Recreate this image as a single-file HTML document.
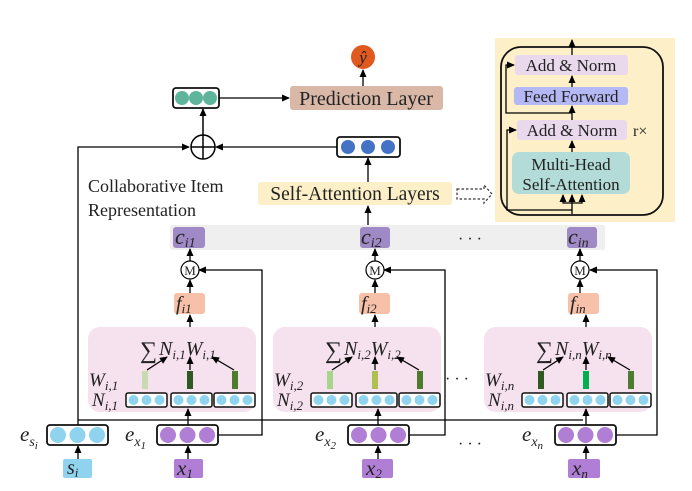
<!DOCTYPE html>
<html><head><meta charset="utf-8"><style>
html,body{margin:0;padding:0;background:#fff;}
svg{display:block;}
text{font-family:"Liberation Serif",serif;fill:#222;}
.it{font-style:italic;}
</style></head><body>
<svg width="692" height="491" viewBox="0 0 692 491" xmlns="http://www.w3.org/2000/svg">
<defs>
<marker id="a" markerWidth="8" markerHeight="8" refX="7" refY="4" orient="auto" markerUnits="userSpaceOnUse"><path d="M0,0.5 L8,4 L0,7.5 z" fill="#000"/></marker>
<g id="blue3"><rect x="0" y="0" width="41" height="14" rx="2" fill="#fff" stroke="#111" stroke-width="1.5"/><circle cx="7.5" cy="7" r="5" fill="#8fd3ee"/><circle cx="20.5" cy="7" r="5" fill="#8fd3ee"/><circle cx="33.5" cy="7" r="5" fill="#8fd3ee"/></g>
<g id="purp"><rect x="0" y="0" width="61" height="20" rx="3" fill="#fff" stroke="#111" stroke-width="1.8"/><circle cx="11" cy="10" r="8" fill="#b07ed4"/><circle cx="30.5" cy="10" r="8" fill="#b07ed4"/><circle cx="50" cy="10" r="8" fill="#b07ed4"/></g>
</defs>

<!-- right transformer panel -->
<rect x="495" y="38" width="180" height="184" fill="#fdf0c8"/>
<rect x="501" y="47" width="162" height="168" rx="20" fill="none" stroke="#111" stroke-width="1.8"/>
<rect x="515" y="55" width="113" height="20" rx="3" fill="#ead9ec"/>
<text x="571" y="71" font-size="17" text-anchor="middle">Add &amp; Norm</text>
<rect x="514" y="87" width="114" height="18" rx="3" fill="#b4b8f4"/>
<text x="571" y="102" font-size="17" text-anchor="middle">Feed Forward</text>
<rect x="517" y="120" width="110" height="20" rx="3" fill="#ead9ec"/>
<text x="572" y="136" font-size="17" text-anchor="middle">Add &amp; Norm</text>
<rect x="512" y="152" width="118" height="42" rx="7" fill="#b3dcd8"/>
<text x="571" y="170" font-size="17" text-anchor="middle">Multi-Head</text>
<text x="571" y="190" font-size="17" text-anchor="middle">Self-Attention</text>
<text x="633" y="136" font-size="16">r×</text>
<g stroke="#000" stroke-width="1.3" fill="none">
<line x1="572" y1="55" x2="572" y2="40" marker-end="url(#a)"/>
<line x1="572" y1="87" x2="572" y2="76" marker-end="url(#a)"/>
<line x1="572" y1="120" x2="572" y2="106" marker-end="url(#a)"/>
<line x1="572" y1="152" x2="572" y2="141" marker-end="url(#a)"/>
<line x1="572" y1="214" x2="572" y2="195" marker-end="url(#a)"/>
<polyline points="572,203 563,203 563,195" marker-end="url(#a)"/>
<polyline points="572,203 582,203 582,195" marker-end="url(#a)"/>
<polyline points="572,210 507,210 507,130 516,130" marker-end="url(#a)"/>
<polyline points="572,113 506,113 506,65 514,65" marker-end="url(#a)"/>
</g>

<!-- top -->
<circle cx="363" cy="57" r="12" fill="#e05a20"/>
<text x="363" y="63" font-size="17" text-anchor="middle" class="it">ŷ</text>
<line x1="363" y1="86" x2="363" y2="70" stroke="#000" stroke-width="1.3" marker-end="url(#a)"/>
<rect x="290" y="86" width="153" height="24" rx="3" fill="#d9b8a8"/>
<text x="366" y="105" font-size="20" text-anchor="middle">Prediction Layer</text>
<rect x="173" y="88" width="46" height="20" rx="3" fill="#fff" stroke="#111" stroke-width="1.8"/>
<circle cx="182" cy="98" r="7" fill="#5fb49c"/><circle cx="196" cy="98" r="7" fill="#5fb49c"/><circle cx="210" cy="98" r="7" fill="#5fb49c"/>
<line x1="219" y1="98" x2="289" y2="98" stroke="#000" stroke-width="1.3" marker-end="url(#a)"/>
<circle cx="203" cy="147" r="12" fill="#fff" stroke="#000" stroke-width="1.5"/>
<line x1="191" y1="147" x2="215" y2="147" stroke="#000" stroke-width="1.5"/>
<line x1="203" y1="159" x2="203" y2="109" stroke="#000" stroke-width="1.5" marker-end="url(#a)"/>
<rect x="337" y="137" width="63" height="20" rx="3" fill="#fff" stroke="#111" stroke-width="1.8"/>
<circle cx="348" cy="147" r="7" fill="#4472c4"/><circle cx="368" cy="147" r="7" fill="#4472c4"/><circle cx="388" cy="147" r="7" fill="#4472c4"/>
<line x1="337" y1="147" x2="216" y2="147" stroke="#000" stroke-width="1.3" marker-end="url(#a)"/>
<line x1="368" y1="182" x2="368" y2="158" stroke="#000" stroke-width="1.3" marker-end="url(#a)"/>
<rect x="258" y="182" width="194" height="23" rx="3" fill="#fdf0c8"/>
<text x="355" y="200" font-size="19.5" text-anchor="middle">Self-Attention Layers</text>
<path d="M457,189 L484,189 L484,185 L492,194 L484,203 L484,199 L457,199 Z" fill="none" stroke="#333" stroke-width="1.2" stroke-dasharray="2.5,2"/>
<line x1="368" y1="225" x2="368" y2="206" stroke="#000" stroke-width="1.3" marker-end="url(#a)"/>
<text x="88" y="192" font-size="18">Collaborative Item</text>
<text x="88" y="216" font-size="18">Representation</text>

<!-- gray band -->
<rect x="170" y="225" width="435" height="25" rx="2" fill="#efefef"/>
<text x="470" y="244" font-size="16" text-anchor="middle">· · ·</text>
<text x="457" y="384" font-size="16" text-anchor="middle">· · ·</text>
<text x="470" y="449" font-size="16" text-anchor="middle">· · ·</text>

<!-- s_i path -->
<polyline points="78,425 78,147 189,147" fill="none" stroke="#000" stroke-width="1.3" marker-end="url(#a)"/>
<line x1="78" y1="420" x2="583" y2="420" stroke="#000" stroke-width="1.3"/>
<rect x="47" y="425" width="61" height="20" rx="3" fill="#fff" stroke="#111" stroke-width="1.8"/>
<circle cx="58" cy="435" r="8" fill="#8fd3ee"/><circle cx="77.5" cy="435" r="8" fill="#8fd3ee"/><circle cx="97" cy="435" r="8" fill="#8fd3ee"/>
<text x="20" y="441" font-size="21" class="it">e<tspan font-size="14" dy="5">s</tspan><tspan font-size="11" dy="3">i</tspan></text>
<line x1="78" y1="459" x2="78" y2="446" stroke="#000" stroke-width="1.3" marker-end="url(#a)"/>
<rect x="63" y="459" width="29" height="19" rx="2" fill="#8fd3ee"/>
<text x="67" y="474" font-size="20" class="it">s<tspan font-size="13" dy="3">i</tspan></text>

<!-- column 1 -->
<g>
<rect x="88" y="327" width="168" height="85" rx="12" fill="#f6e1ee"/>
<text x="140" y="358" font-size="24">∑</text>
<text x="159" y="355" font-size="20" class="it">N<tspan font-size="13" dy="4">i,1</tspan><tspan dy="-4" font-size="20">W</tspan><tspan font-size="13" dy="4">i,1</tspan></text>
<text x="89" y="386" font-size="19" class="it">W<tspan font-size="13" dy="4">i,1</tspan></text>
<text x="92" y="406" font-size="19" class="it">N<tspan font-size="13" dy="4">i,1</tspan></text>
<rect x="142" y="371" width="6" height="18" fill="#c8dbb0"/>
<rect x="187" y="371" width="6" height="18" fill="#2f5a1f"/>
<rect x="232" y="371" width="6" height="18" fill="#4d7c2e"/>
<use href="#blue3" x="126" y="393"/><use href="#blue3" x="171" y="393"/><use href="#blue3" x="214" y="393"/>
<g stroke="#000" stroke-width="1.3" fill="none">
<line x1="147" y1="370" x2="167" y2="357" marker-end="url(#a)"/>
<line x1="190" y1="370" x2="190" y2="357" marker-end="url(#a)"/>
<line x1="234" y1="370" x2="212" y2="357" marker-end="url(#a)"/>
<line x1="190" y1="327" x2="190" y2="315" marker-end="url(#a)"/>
<line x1="190" y1="293" x2="190" y2="280" marker-end="url(#a)"/>
<line x1="190" y1="261" x2="190" y2="249" marker-end="url(#a)"/>
<line x1="188" y1="425" x2="188" y2="409" marker-end="url(#a)"/>
<line x1="188" y1="459" x2="188" y2="446" marker-end="url(#a)"/>
<polyline points="218,435 262,435 262,270 199,270" marker-end="url(#a)"/>
</g>
<rect x="174" y="293" width="31" height="21" rx="3" fill="#f7c0a8"/>
<circle cx="190" cy="270" r="9" fill="#fff" stroke="#000" stroke-width="1.2"/>
<text x="190" y="275" font-size="13" text-anchor="middle">M</text>
<rect x="173" y="227" width="32" height="21" rx="3" fill="#9f8ac6"/>
<use href="#purp" x="157" y="425"/>
<rect x="174" y="459" width="29" height="19" rx="2" fill="#b07ed4"/>
</g>
<text x="176" y="310" font-size="20" class="it">f<tspan font-size="13" dy="3">i1</tspan></text>
<text x="175" y="244" font-size="22" class="it">c<tspan font-size="14" dy="3">i1</tspan></text>
<text x="177" y="475" font-size="21" class="it">x<tspan font-size="13" dy="3">1</tspan></text>
<text x="125" y="441" font-size="21" class="it">e<tspan font-size="14" dy="5">x</tspan><tspan font-size="11" dy="3">1</tspan></text>

<g transform="translate(185,0)">
<rect x="88" y="327" width="168" height="85" rx="12" fill="#f6e1ee"/>
<text x="140" y="358" font-size="24">∑</text>
<text x="159" y="355" font-size="20" class="it">N<tspan font-size="13" dy="4">i,2</tspan><tspan dy="-4" font-size="20">W</tspan><tspan font-size="13" dy="4">i,2</tspan></text>
<text x="89" y="386" font-size="19" class="it">W<tspan font-size="13" dy="4">i,2</tspan></text>
<text x="92" y="406" font-size="19" class="it">N<tspan font-size="13" dy="4">i,2</tspan></text>
<rect x="142" y="371" width="6" height="18" fill="#a8d58c"/>
<rect x="187" y="371" width="6" height="18" fill="#b0c050"/>
<rect x="232" y="371" width="6" height="18" fill="#4d7c2e"/>
<use href="#blue3" x="126" y="393"/><use href="#blue3" x="171" y="393"/><use href="#blue3" x="214" y="393"/>
<g stroke="#000" stroke-width="1.3" fill="none">
<line x1="147" y1="370" x2="167" y2="357" marker-end="url(#a)"/>
<line x1="190" y1="370" x2="190" y2="357" marker-end="url(#a)"/>
<line x1="234" y1="370" x2="212" y2="357" marker-end="url(#a)"/>
<line x1="190" y1="327" x2="190" y2="315" marker-end="url(#a)"/>
<line x1="190" y1="293" x2="190" y2="280" marker-end="url(#a)"/>
<line x1="190" y1="261" x2="190" y2="249" marker-end="url(#a)"/>
<line x1="193" y1="425" x2="193" y2="409" marker-end="url(#a)"/>
<line x1="193" y1="459" x2="193" y2="446" marker-end="url(#a)"/>
<polyline points="223,435 260,435 260,270 199,270" marker-end="url(#a)"/>
</g>
<rect x="174" y="293" width="31" height="21" rx="3" fill="#f7c0a8"/>
<circle cx="190" cy="270" r="9" fill="#fff" stroke="#000" stroke-width="1.2"/>
<text x="190" y="275" font-size="13" text-anchor="middle">M</text>
<rect x="175" y="227" width="30" height="21" rx="3" fill="#9f8ac6"/>
<use href="#purp" x="163" y="425"/>
<rect x="177" y="459" width="31" height="19" rx="2" fill="#b07ed4"/>
<text x="176" y="310" font-size="20" class="it">f<tspan font-size="13" dy="3">i2</tspan></text>
<text x="176" y="244" font-size="22" class="it">c<tspan font-size="14" dy="3">i2</tspan></text>
<text x="181" y="475" font-size="21" class="it">x<tspan font-size="13" dy="3">2</tspan></text>
<text x="130" y="441" font-size="21" class="it">e<tspan font-size="14" dy="5">x</tspan><tspan font-size="11" dy="3">2</tspan></text>
</g>

<g transform="translate(396,0)">
<rect x="88" y="327" width="168" height="85" rx="12" fill="#f6e1ee"/>
<text x="140" y="358" font-size="24">∑</text>
<text x="159" y="355" font-size="20" class="it">N<tspan font-size="13" dy="4">i,n</tspan><tspan dy="-4" font-size="20">W</tspan><tspan font-size="13" dy="4">i,n</tspan></text>
<text x="89" y="386" font-size="19" class="it">W<tspan font-size="13" dy="4">i,n</tspan></text>
<text x="92" y="406" font-size="19" class="it">N<tspan font-size="13" dy="4">i,n</tspan></text>
<rect x="142" y="371" width="6" height="18" fill="#2f5a1f"/>
<rect x="187" y="371" width="6" height="18" fill="#00b050"/>
<rect x="232" y="371" width="6" height="18" fill="#4d7c2e"/>
<use href="#blue3" x="126" y="393"/><use href="#blue3" x="171" y="393"/><use href="#blue3" x="214" y="393"/>
<g stroke="#000" stroke-width="1.3" fill="none">
<line x1="147" y1="370" x2="167" y2="357" marker-end="url(#a)"/>
<line x1="190" y1="370" x2="190" y2="357" marker-end="url(#a)"/>
<line x1="234" y1="370" x2="212" y2="357" marker-end="url(#a)"/>
<line x1="190" y1="327" x2="190" y2="315" marker-end="url(#a)"/>
<line x1="184" y1="293" x2="184" y2="280" marker-end="url(#a)"/>
<line x1="184" y1="261" x2="184" y2="249" marker-end="url(#a)"/>
<line x1="190" y1="425" x2="190" y2="409" marker-end="url(#a)"/>
<line x1="190" y1="459" x2="190" y2="446" marker-end="url(#a)"/>
<polyline points="220,435 261,435 261,270 194,270" marker-end="url(#a)"/>
</g>
<rect x="172" y="293" width="31" height="21" rx="3" fill="#f7c0a8"/>
<circle cx="184" cy="270" r="9" fill="#fff" stroke="#000" stroke-width="1.2"/>
<text x="184" y="275" font-size="13" text-anchor="middle">M</text>
<rect x="171" y="227" width="30" height="21" rx="3" fill="#9f8ac6"/>
<use href="#purp" x="159" y="425"/>
<rect x="172" y="459" width="32" height="19" rx="2" fill="#b07ed4"/>
<text x="174" y="310" font-size="20" class="it">f<tspan font-size="13" dy="3">in</tspan></text>
<text x="172" y="244" font-size="22" class="it">c<tspan font-size="14" dy="3">in</tspan></text>
<text x="176" y="475" font-size="21" class="it">x<tspan font-size="13" dy="3">n</tspan></text>
<text x="126" y="441" font-size="21" class="it">e<tspan font-size="14" dy="5">x</tspan><tspan font-size="11" dy="3">n</tspan></text>
</g>
</svg>
</body></html>
